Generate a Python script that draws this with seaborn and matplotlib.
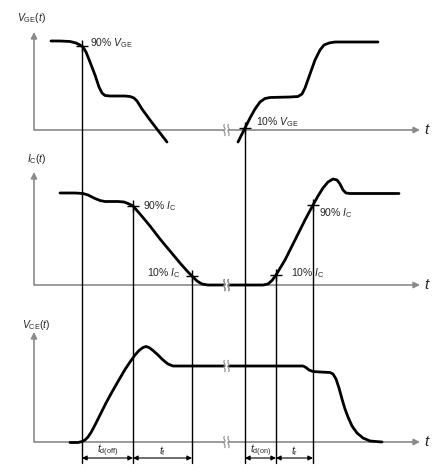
#!/usr/bin/env python3
"""
IGBT switching waveform definitions (VGE, IC, VCE) with td(off), tf, td(on), tr.

Schematic drawn in a single axes whose units follow the drawing (x = time,
y = level, top-down).
"""

import matplotlib
matplotlib.use("Agg")
import matplotlib.pyplot as plt
import seaborn as sns
from matplotlib.path import Path
from matplotlib.patches import PathPatch

sns.set_style("white")
plt.rcParams["font.family"] = ["Liberation Sans", "DejaVu Sans"]
plt.rcParams["mathtext.fontset"] = "custom"
plt.rcParams["mathtext.rm"] = "Liberation Sans"
plt.rcParams["mathtext.it"] = "Liberation Sans:italic"

# --- waveform data (time, level in drawing units) ---
vge_off_t = [51, 60, 70, 76, 80, 83, 86, 90, 95, 99, 102, 105, 110, 125, 130, 134, 137, 142, 150, 160, 167]
vge_off_v = [41, 41, 41.5, 43, 45, 47, 52, 62, 75, 87, 93, 95.5, 96, 96, 96.5, 98, 101, 109, 120, 133, 142]
vge_on_t = [238, 242, 245, 250, 255, 260, 265, 270, 290, 298, 302, 305, 310, 315, 320, 324, 329, 335, 378]
vge_on_v = [142, 134, 128, 118, 109, 102, 98.5, 97.5, 97, 96.5, 94, 88, 74, 60, 50, 45, 43, 42, 42]

ic_off_t = [60, 75, 83, 88, 95, 100, 105, 118, 124, 128, 133, 140, 150, 160, 170, 180, 188, 192, 197, 202, 208, 224]
ic_off_v = [193, 193, 193.5, 195, 198.5, 200.5, 201.5, 201.5, 202, 203.5, 206, 214, 226, 239, 251, 263, 272, 276, 281, 284, 285, 285]
ic_on_t = [229, 263, 268, 272, 276, 285, 295, 305, 313, 318, 323, 328, 333, 337, 340, 343, 346, 350, 399]
ic_on_v = [285, 285, 284, 280.5, 275, 260, 240, 220, 205, 196, 188, 182, 179, 180, 184, 190, 193, 193.5, 193.5]

vce_off_t = [70, 78, 82, 85, 88, 91, 95, 100, 106, 112, 118, 125, 130, 135, 139, 143, 146, 149, 153, 158, 163, 168, 173, 180, 224]
vce_off_v = [442.5, 442.5, 441.5, 440, 437, 432.5, 425, 415, 403, 392, 381.5, 369.5, 362, 355, 350.5, 347.5, 346.5, 347.5, 350.5, 355, 360, 364, 366, 366, 366]
vce_on_t = [229, 303, 306, 309, 313, 320, 330, 333, 336, 339, 342, 345, 348, 352, 357, 363, 370, 382]
vce_on_v = [366, 366, 367.5, 370, 371.5, 372, 372.5, 374, 379, 388, 399, 409, 417, 426, 433, 438, 441, 442]

# measurement points (crosses) and where the marker lines start
mark_t = [82, 245, 133, 192, 276, 313]
mark_v = [46, 128, 206, 276, 275, 205]
mark_labels = ["90% $V_{\\mathrm{GE}}$", "10% $V_{\\mathrm{GE}}$", "90% $I_{\\mathrm{C}}$",
               "10% $I_{\\mathrm{C}}$", "10% $I_{\\mathrm{C}}$", "90% $I_{\\mathrm{C}}$"]
mark_label_pos = [(90, 43), (256, 122), (143, 206), (147, 273), (291, 273), (319, 213)]

# time intervals
interval_edges = [(82, 133), (133, 192), (245, 276), (276, 313)]
interval_labels = ["$t_{\\mathrm{d(off)}}$", "$t_{\\mathrm{f}}$", "$t_{\\mathrm{d(on)}}$", "$t_{\\mathrm{r}}$"]

# panel axes: baseline level, top of y arrow, label text and label position
axis_base = [130, 285, 442]
axis_top = [32, 172, 332]
axis_labels = ["$V_{\\mathrm{GE}}(t)$", "$I_{\\mathrm{C}}(t)$", "$V_{\\mathrm{CE}}(t)$"]
axis_label_pos = [(17, 18), (27, 159), (22, 325)]

AX_X = 34
BREAK_L, BREAK_R = 224, 229
T_END = 420
LINE_BOTTOM = 463
GRAY = "#8a8a8a"


def squiggle(ax, x, y, h=6, w=2.2):
    """Small vertical S-shaped break mark."""
    verts = [(x, y - h), (x - w, y - h / 2), (x + w, y - h / 6), (x, y),
             (x - w, y + h / 6), (x + w, y + h / 2), (x, y + h)]
    codes = [Path.MOVETO, Path.CURVE4, Path.CURVE4, Path.CURVE4,
             Path.CURVE4, Path.CURVE4, Path.CURVE4]
    ax.add_patch(PathPatch(Path(verts, codes), fill=False, edgecolor=GRAY, lw=0.8, zorder=6))


fig = plt.figure(figsize=(4.41, 4.72), dpi=100)
ax = fig.add_axes([0, 0, 1, 1])
ax.set_xlim(0, 441)
ax.set_ylim(472, 0)
ax.axis("off")

# axes with arrows
for base, top, lab, pos in zip(axis_base, axis_top, axis_labels, axis_label_pos):
    ax.annotate("", xy=(AX_X, top), xytext=(AX_X, base),
                arrowprops=dict(arrowstyle="-|>", color=GRAY, lw=1.2,
                                mutation_scale=9, shrinkA=0, shrinkB=0), zorder=1)
    ax.plot([AX_X, BREAK_L], [base, base], color=GRAY, lw=1.2, solid_capstyle="butt", zorder=1)
    ax.annotate("", xy=(T_END, base), xytext=(BREAK_R, base),
                arrowprops=dict(arrowstyle="-|>", color=GRAY, lw=1.2,
                                mutation_scale=9, shrinkA=0, shrinkB=0), zorder=1)
    ax.text(424, base, "$t$", fontsize=11, ha="left", va="center")
    ax.text(pos[0], pos[1], lab, fontsize=7.5, ha="left", va="center")
    squiggle(ax, BREAK_L + 0.5, base)
    squiggle(ax, BREAK_R - 0.5, base)

# break marks on the waveforms crossing the gap
for y in [285, 366]:
    squiggle(ax, BREAK_L + 0.5, y)
    squiggle(ax, BREAK_R - 0.5, y)

# marker lines
for t, v in zip(mark_t, mark_v):
    ax.plot([t, t], [v, LINE_BOTTOM], color="black", lw=1.0, zorder=4)

# waveforms
for t, v in [(vge_off_t, vge_off_v), (vge_on_t, vge_on_v),
             (ic_off_t, ic_off_v), (ic_on_t, ic_on_v),
             (vce_off_t, vce_off_v), (vce_on_t, vce_on_v)]:
    sns.lineplot(x=t, y=v, sort=False, estimator=None, color="black", lw=2.0,
                 ax=ax, zorder=5)

# crosses and their labels
ax.plot(mark_t, mark_v, ls="none", marker="+", color="black", ms=8, mew=1.0, zorder=6)
for lab, (x, y) in zip(mark_labels, mark_label_pos):
    ax.text(x, y, lab, fontsize=7.5, ha="left", va="center")

# interval arrows
for (a, b), lab in zip(interval_edges, interval_labels):
    ax.annotate("", xy=(b, 458), xytext=(a, 458),
                arrowprops=dict(arrowstyle="<|-|>", color="black", lw=0.8,
                                mutation_scale=7, shrinkA=0, shrinkB=0))
    ax.text((a + b) / 2, 451, lab, fontsize=7.5, ha="center", va="center")

fig.savefig("out.png", dpi=100)
